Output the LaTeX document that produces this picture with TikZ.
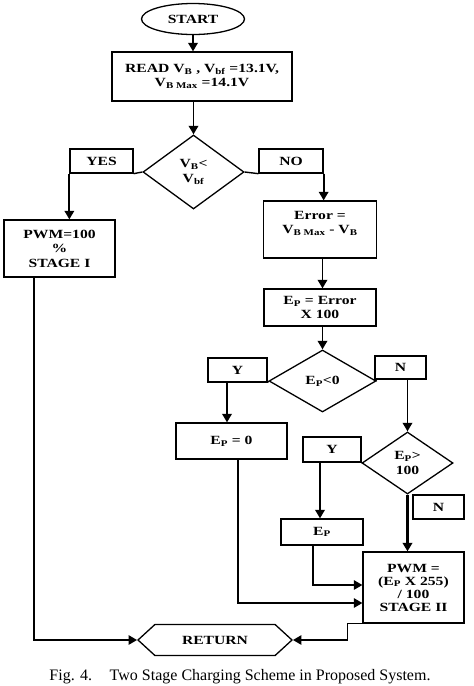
\documentclass[tikz,border=0pt]{standalone}
\usepackage{fontspec}
\setmainfont{Liberation Serif}
\newfontfamily\boxfont[FakeStretch=1.25]{Liberation Serif}
\usetikzlibrary{shapes.geometric,shapes.symbols,arrows.meta}
\begin{document}
\begin{tikzpicture}[x=1pt,y=-1pt,
 box/.style={draw,line width=1.3pt,inner sep=0pt,align=center,font=\boxfont\bfseries\fontsize{12.5}{14.5}\selectfont},
 dia/.style={box,diamond},
 arr/.style={line width=1.8pt,-{Triangle[length=8.5pt,width=9.5pt]}},
 ln/.style={line width=1.4pt},
]
\useasboundingbox (0,0) rectangle (474,686);
\node[box,ellipse,minimum width=103pt,minimum height=31pt] (start) at (193,19) {START};
\node[box,minimum width=180pt,minimum height=49pt] (read) at (202,76.5) {READ V\textsubscript{B} , V\textsubscript{bf} =13.1V,\\ V\textsubscript{B Max} =14.1V};
\node[dia,minimum width=101pt,minimum height=74pt] (d1) at (193.5,172) {V\textsubscript{B}<\\V\textsubscript{bf}};
\node[box,minimum width=63pt,minimum height=24pt] (yes) at (101.5,161) {YES};
\node[box,minimum width=64pt,minimum height=24pt] (no) at (291,161) {NO};
\node[box,minimum width=111pt,minimum height=57pt] (pwm1) at (59.5,248.5) {PWM=100\\\%\\STAGE I};
\node[box,minimum width=113pt,minimum height=57pt] (err) at (320,229.5) {Error =\\V\textsubscript{B Max} - V\textsubscript{B}\\\mbox{}};
\node[box,minimum width=112pt,minimum height=37pt] (ep) at (320,307.5) {E\textsubscript{P} = Error\\X 100};
\node[dia,minimum width=107pt,minimum height=62pt] (d2) at (322.5,381) {E\textsubscript{P}<0};
\node[box,minimum width=59pt,minimum height=24pt] (y1) at (237.5,370) {Y};
\node[box,minimum width=51pt,minimum height=23pt] (n1) at (400.5,367.5) {N};
\node[box,minimum width=111pt,minimum height=36pt] (ep0) at (231.5,441) {E\textsubscript{P} = 0};
\node[dia,minimum width=91pt,minimum height=62pt] (d3) at (407.5,463) {E\textsubscript{P}>\\100};
\node[box,minimum width=58pt,minimum height=25pt] (y2) at (332,449.5) {Y};
\node[box,minimum width=51pt,minimum height=24pt] (n2) at (438.5,507) {N};
\node[box,minimum width=82pt,minimum height=26pt] (epb) at (322,532) {E\textsubscript{P}};
\node[box,minimum width=101pt,minimum height=71pt,font=\boxfont\bfseries\fontsize{12.5}{13}\selectfont] (pwm2) at (413.5,587.5) {PWM =\\(E\textsubscript{P} X 255)\\/ 100\\STAGE II};
\node[box,signal,signal to=west and east,signal pointer angle=85,minimum width=154pt,minimum height=31pt] (ret) at (215,640) {RETURN};
\node[font=\fontsize{16}{18}\selectfont] (cap) at (240,677) {Fig. 4.\hspace{1.1em}Two Stage Charging Scheme in Proposed System.};
\draw[arr] (start.south) -- (start.south |- read.north);
\draw[arr] (d1.north |- read.south) -- (d1.north);
\draw[ln] (d1.west) -- (yes.south east);
\draw[arr] (yes.south west) -- (yes.south west |- pwm1.north);
\draw[ln] (d1.east) -- (no.south west);
\draw[arr] (no.south east) -- (no.south east |- err.north);
\draw[arr] (d2.north |- err.south) -- (d2.north |- ep.north);
\draw[arr] (d2.north |- ep.south) -- (d2.north);
\draw[ln] (d2.west) -- (y1.south east);
\draw[arr] ([xshift=-10.5pt]y1.south) -- ([xshift=-10.5pt]y1.south |- ep0.north);
\draw[ln] (d2.east) -- (n1.south west);
\draw[arr] (n1.south -| d3.north) -- (d3.north);
\draw[ln] (d3.west) -- (y2.south east);
\draw[arr] ([xshift=-12pt]y2.south) -- ([xshift=-12pt]y2.south |- epb.north);
\draw[arr,line width=2.4pt] (d3.south) -- (d3.south |- pwm2.north);
\draw[arr,line width=1.4pt] ([xshift=-9pt]epb.south) |- ([yshift=2.5pt]pwm2.west);
\draw[arr,line width=1.4pt] ([xshift=6.5pt]ep0.south) |- ([yshift=-15.5pt]pwm2.west);
\draw[arr,line width=1.4pt] (pwm2.south west) -- ++(-15,0) |- (ret.east);
\draw[arr,line width=1.4pt] ([xshift=-25.5pt]pwm1.south) |- (ret.west);
\end{tikzpicture}
\end{document}
